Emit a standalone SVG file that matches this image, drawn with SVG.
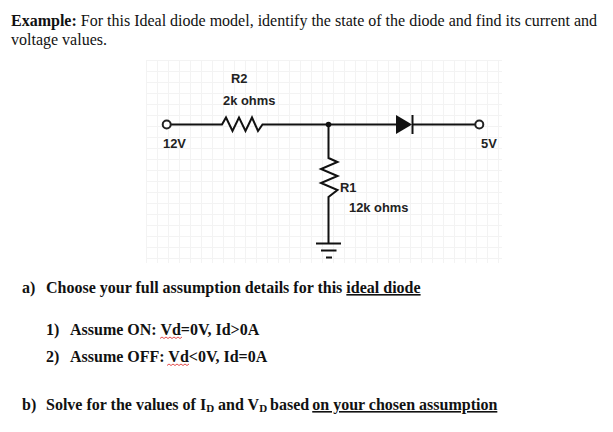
<svg xmlns="http://www.w3.org/2000/svg" width="613" height="432" viewBox="0 0 613 432">
<defs>
<pattern id="grid" x="146" y="60" width="11" height="11" patternUnits="userSpaceOnUse"><path d="M0.5 0V11M0 0.5H11" fill="none" stroke="#f3f3f3" stroke-width="1"/></pattern>
</defs>
<style>
.doc{font-family:"Liberation Serif","Times New Roman",serif;font-size:16px;fill:#111}
.b{font-weight:700}
.lbl{font-family:"Liberation Sans",Arial,sans-serif;font-size:12.9px;font-weight:700;fill:#222}
.w{fill:none;stroke:#111;stroke-width:2;stroke-linejoin:miter}
.t{fill:#fff;stroke:#222;stroke-width:2}
.sq{fill:none;stroke:#d22;stroke-width:.8}
</style>
<rect width="613" height="432" fill="#fff"/>
<rect x="146" y="60" width="356" height="203" fill="url(#grid)"/>
<g id="text-intro">
<text class="doc" x="11" y="26"><tspan class="b">Example:</tspan> For this Ideal diode model, identify the state of the diode and find its current and</text>
<text class="doc" x="11" y="45">voltage values.</text>
</g>
<g id="connectors">
<path class="w" d="M170.500 124.500H222L226 117.500L232.500 131L239 117.500L245.500 131L252 117.500L258 131L262.500 124.500H396"/>
<path class="w" d="M412.500 124.500H475.500"/>
<path class="w" d="M328.500 124.500V158L337.500 162L321 169L337.500 176L321 183L337.500 190L328.500 197V243"/>
</g>
<g id="node-12v"><circle class="t" cx="166.700" cy="124.500" r="4"/><text class="lbl" x="163" y="148">12V</text></g>
<g id="node-r2"><text class="lbl" x="231" y="83">R2</text><text class="lbl" x="223" y="105">2k ohms</text></g>
<g id="node-junction"><circle cx="328.500" cy="124.500" r="2.800" fill="#111"/></g>
<g id="node-diode"><path d="M396 115L412 124.500L396 134Z" fill="#111"/><path class="w" d="M412.500 115V134"/></g>
<g id="node-5v"><circle class="t" cx="479.300" cy="124.500" r="4"/><text class="lbl" x="481" y="148">5V</text></g>
<g id="node-r1"><text class="lbl" x="340" y="192">R1</text><text class="lbl" x="349" y="212">12k ohms</text></g>
<g id="node-ground"><path class="w" d="M316 243.500H341M321 250.500H336.500M326 257.500H332"/></g>
<g id="text-a">
<text class="doc b" x="22" y="293">a)</text>
<text class="doc b" x="46" y="293">Choose your full assumption details for this <tspan text-decoration="underline">ideal diode</tspan></text>
<text class="doc b" x="46" y="335">1)</text>
<text class="doc b" x="70" y="335">Assume ON: Vd=0V, Id&gt;0A</text>
<text class="doc b" x="46" y="362">2)</text>
<text class="doc b" x="70" y="362">Assume OFF: Vd&lt;0V, Id=0A</text>
<path class="sq" d="M160 338.500l2-1.500 2 1.500 2-1.500 2 1.500 2-1.500 2 1.500 2-1.500 2 1.500 2-1.500 2 1.500 2-1.500"/>
<path class="sq" d="M167 365.500l2-1.500 2 1.500 2-1.500 2 1.500 2-1.500 2 1.500 2-1.500 2 1.500 2-1.500 2 1.500 2-1.500"/>
</g>
<g id="text-b">
<text class="doc b" x="22" y="410">b)</text>
<text class="doc b" x="46" y="410">Solve for the values of I<tspan font-size="11" dy="2">D</tspan><tspan dy="-2"> and V</tspan><tspan font-size="11" dy="2">D</tspan><tspan dy="-2" dx="-1"> based </tspan><tspan dx="-1" text-decoration="underline">on your chosen assumption</tspan></text>
</g>
</svg>
